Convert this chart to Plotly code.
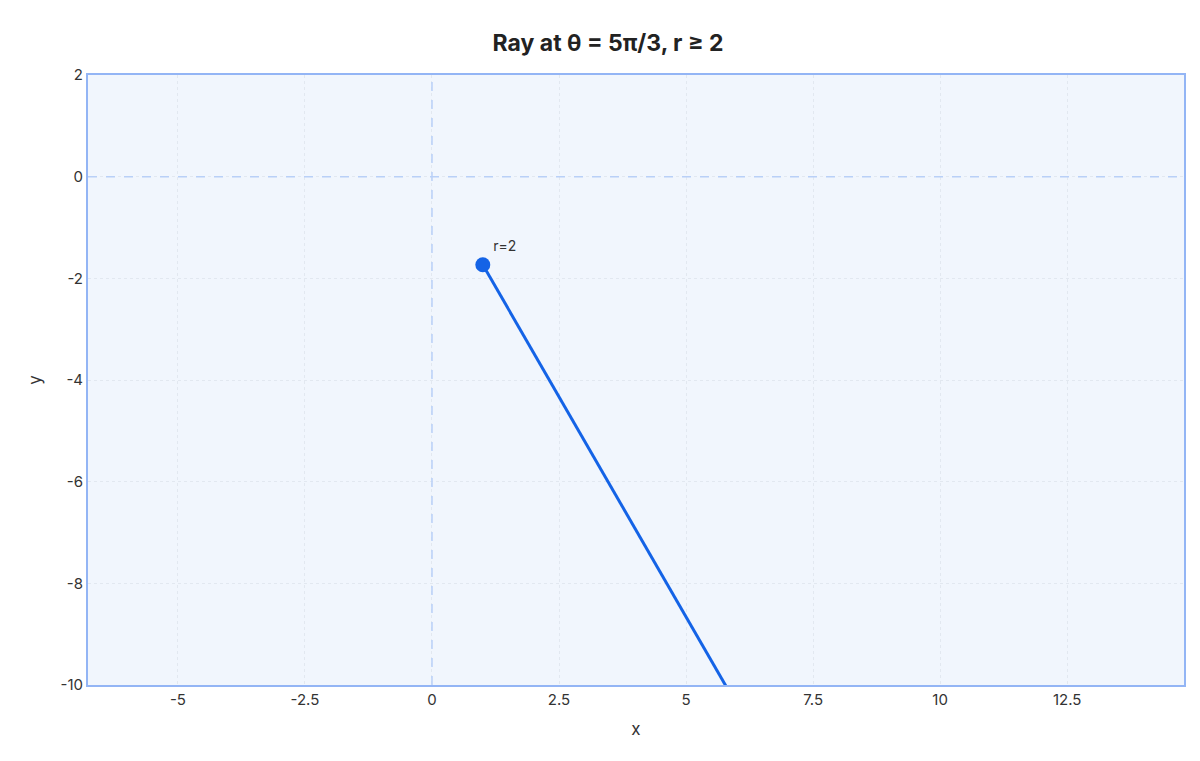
import numpy as np
import plotly.graph_objects as go

theta = 5*np.pi/3
radii = [2, 20]
xs = [r*np.cos(theta) for r in radii]
ys = [r*np.sin(theta) for r in radii]
xticks = [-5, -2.5, 0, 2.5, 5, 7.5, 10, 12.5]
xlabels = ["-5", "-2.5", "0", "2.5", "5", "7.5", "10", "12.5"]
yticks = [-10, -8, -6, -4, -2, 0, 2]
ylabels = ["-10", "-8", "-6", "-4", "-2", "0", "2"]

fig = go.Figure()
fig.add_trace(go.Scatter(x=xs, y=ys, mode="lines", line=dict(color="#1463e6", width=3), showlegend=False))
fig.add_trace(go.Scatter(x=[xs[0]], y=[ys[0]], mode="markers+text", marker=dict(color="#1463e6", size=15),
                         text=["r=2"], textposition="top right", textfont=dict(size=14, color="#333"), showlegend=False))
ax = dict(showline=True, linecolor="#93b5f5", linewidth=2, mirror=True, zeroline=False,
          gridcolor="#e2e8f0", griddash="dot", ticks="", tickfont=dict(size=15, color="#333"))
fig.update_xaxes(ax, range=[-6.77, 14.8], tickvals=xticks, ticktext=xlabels, title=dict(text="x", font=dict(size=17)))
fig.update_yaxes(ax, range=[-10, 2], tickvals=yticks, ticktext=ylabels, title=dict(text="y", font=dict(size=17)))
fig.add_shape(type="line", xref="x", yref="paper", x0=0, x1=0, y0=0, y1=1, line=dict(color="#b9d0f7", dash="dash", width=1.5))
fig.add_shape(type="line", xref="paper", yref="y", x0=0, x1=1, y0=0, y1=0, line=dict(color="#b9d0f7", dash="dash", width=1.5))
fig.update_layout(width=1200, height=761, paper_bgcolor="white", plot_bgcolor="#f1f6fd",
                  font=dict(family="Inter", color="#333"),
                  title=dict(text="<b>Ray at θ = 5π/3, r ≥ 2</b>", x=0.5, y=0.965, font=dict(size=23, color="#222")),
                  margin=dict(l=80, r=24, t=67, b=84))
fig.data = (fig.data[0], fig.data[1])
fig.write_html("out.html")
